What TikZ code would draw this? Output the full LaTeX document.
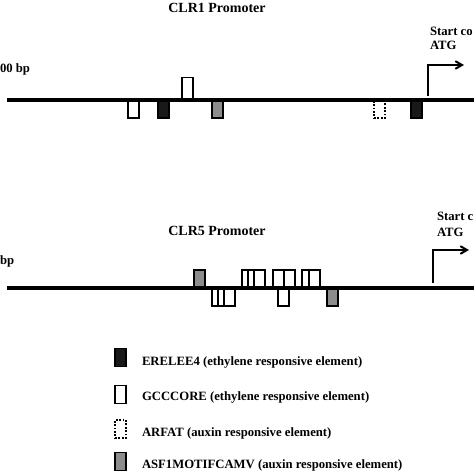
\documentclass[tikz,border=0pt]{standalone}
\usepackage{fontspec}
\setmainfont{Liberation Serif}
\usetikzlibrary{arrows}

\begin{document}
\begin{tikzpicture}[x = 1pt, y = -1pt, every node/.style = {inner sep = 0pt, outer sep = 0pt},
	box/.style = {rectangle, draw = black, line width = 1.9pt, minimum width = 11pt,
		minimum height = 18pt},
	erelee/.style = {box, fill = black!90},
	gcccore/.style = {box, fill = white},
	arfat/.style = {box, fill = white, dash pattern = on 1.8pt off 1.6pt},
	asf/.style = {box, fill = black!45},
	up/.style = {anchor = south west},
	down/.style = {anchor = north west},
	title/.style = {font = \bfseries\fontsize{14}{16}\selectfont, anchor = base},
	label/.style = {font = \bfseries\fontsize{12.7}{14}\selectfont, anchor = base west},
	dna/.style = {line width = 4.5pt},
	tss/.style = {line width = 2pt, -angle 60}]

	\useasboundingbox (0, 0) rectangle (474, 474);

	% CLR1
	\node (clr1) at (217, 12) [title] {CLR1 Promoter};
	\node (bp1)  at (  0, 72) [label] {00 bp};
	\node (st1)  at (430, 35) [label] {Start co};
	\node (atg1) at (430, 49) [label] {ATG};

	\foreach \name/\kind/\xpos in {c1a/gcccore/128, c1b/erelee/158, c1c/asf/212,
		c1d/arfat/374, c1e/erelee/411}
		\node (\name) at (\xpos, 100) [\kind, down] {};
	\node (c1f) at (182, 100) [gcccore, up, minimum height = 22.5pt] {};

	\coordinate (l1a) at (7, 100);
	\coordinate (l1b) at (474, 100);
	\draw [dna] (l1a) -- (l1b);

	\coordinate (t1a) at (428, 96);
	\coordinate (t1b) at (464, 65);
	\draw [tss] (t1a) |- (t1b);

	% CLR5
	\node (clr5) at (217, 235) [title] {CLR5 Promoter};
	\node (bp5)  at (  0, 264) [label] {bp};
	\node (st5)  at (437, 220) [label] {Start c};
	\node (atg5) at (437, 236) [label] {ATG};

	\node (c5a) at (194, 288) [asf, up] {};
	\foreach \name/\xpos in {c5b/242, c5c/248, c5d/254, c5e/273, c5f/284,
		c5g/302, c5h/309}
		\node (\name) at (\xpos, 288) [gcccore, up] {};
	\foreach \name/\xpos in {c5i/212, c5j/218, c5k/224, c5l/278}
		\node (\name) at (\xpos, 288) [gcccore, down] {};
	\node (c5m) at (327, 288) [asf, down] {};

	\coordinate (l5a) at (7, 288);
	\coordinate (l5b) at (474, 288);
	\draw [dna] (l5a) -- (l5b);

	\coordinate (t5a) at (433, 283);
	\coordinate (t5b) at (469, 250);
	\draw [tss] (t5a) |- (t5b);

	% legend
	\foreach \name/\kind/\ypos/\base/\txt in {
		k1/erelee/348.5/365/{ERELEE4 (ethylene responsive element)},
		k2/gcccore/385.5/400.5/{GCCCORE (ethylene responsive element)},
		k3/arfat/420/436/{ARFAT (auxin responsive element)},
		k4/asf/452.5/468/{ASF1MOTIFCAMV (auxin responsive element)}}
	{
		\node (\name) at (115, \ypos) [\kind, down] {};
		\node (\name t) at (142, \base) [label] {\txt};
	}

\end{tikzpicture}
\end{document}
